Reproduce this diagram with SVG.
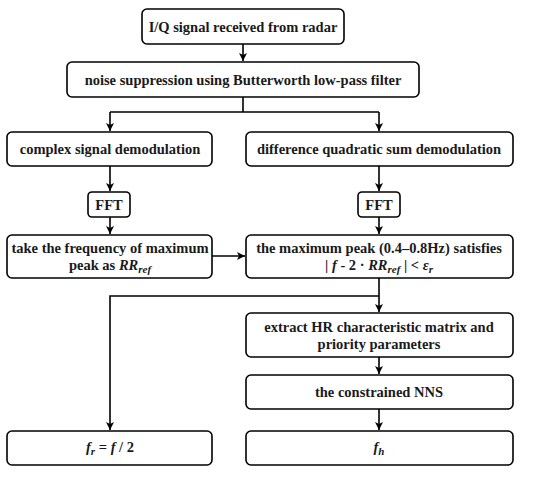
<svg xmlns="http://www.w3.org/2000/svg" width="550" height="480" viewBox="0 0 550 480">
<defs>
<marker id="ah" markerWidth="10" markerHeight="10" refX="9" refY="5" orient="auto" markerUnits="userSpaceOnUse">
<path d="M1,1 L9,5 L1,9 L3,5 Z" fill="#000"/>
</marker>
<style>
.b{fill:#fff;stroke:#000;stroke-width:1.6}
.t{font-family:"Liberation Serif","DejaVu Serif",serif;font-weight:bold;font-size:14.5px;text-anchor:middle;fill:#1a1a1a}
.i{font-style:italic}
.c{fill:none;stroke:#000;stroke-width:1.6}
</style>
</defs>
<rect width="550" height="480" fill="#fff"/>
<g id="connectors">
<path class="c" d="M243,44 V61" marker-end="url(#ah)"/>
<path class="c" d="M243,97 V112 M110,112 H379"/>
<path class="c" d="M110,112 V131" marker-end="url(#ah)"/>
<path class="c" d="M379,112 V131" marker-end="url(#ah)"/>
<path class="c" d="M110,166 V191" marker-end="url(#ah)"/>
<path class="c" d="M379,166 V191" marker-end="url(#ah)"/>
<path class="c" d="M110,217 V234" marker-end="url(#ah)"/>
<path class="c" d="M379,217 V234" marker-end="url(#ah)"/>
<path class="c" d="M212,256 H245" marker-end="url(#ah)"/>
<path class="c" d="M379,278 V312" marker-end="url(#ah)"/>
<path class="c" d="M379,296 H110 V430" marker-end="url(#ah)"/>
<path class="c" d="M379,357 V374" marker-end="url(#ah)"/>
<path class="c" d="M379,409 V430" marker-end="url(#ah)"/>
</g>
<g id="n1"><rect class="b" x="142" y="9" width="202" height="35" rx="5"/><text class="t" x="243" y="32">I/Q signal received from radar</text></g>
<g id="n2"><rect class="b" x="67" y="62" width="352" height="35" rx="5"/><text class="t" x="243" y="85">noise suppression using Butterworth low-pass filter</text></g>
<g id="n3"><rect class="b" x="7" y="132" width="205" height="34" rx="5"/><text class="t" x="110" y="154">complex signal demodulation</text></g>
<g id="n4"><rect class="b" x="246" y="132" width="267" height="34" rx="5"/><text class="t" x="379" y="154">difference quadratic sum demodulation</text></g>
<g id="n5"><rect class="b" x="88" y="192" width="42" height="25" rx="4"/><text class="t" x="109" y="210">FFT</text></g>
<g id="n6"><rect class="b" x="358" y="192" width="42" height="25" rx="4"/><text class="t" x="379" y="210">FFT</text></g>
<g id="n7"><rect class="b" x="7" y="235" width="205" height="43" rx="5"/><text class="t" x="110" y="253">take the frequency of maximum</text><text class="t" x="110" y="270">peak as <tspan class="i">RR</tspan><tspan class="i" font-size="11" dy="3">ref</tspan></text></g>
<g id="n8"><rect class="b" x="246" y="235" width="267" height="43" rx="5"/><text class="t" x="379" y="253">the maximum peak (0.4–0.8Hz) satisfies</text><text class="t" x="379" y="270">| <tspan class="i">f</tspan> - 2 · <tspan class="i">RR</tspan><tspan class="i" font-size="11" dy="3">ref</tspan><tspan dy="-3"> | &lt; </tspan><tspan class="i">ε</tspan><tspan class="i" font-size="11" dy="3">r</tspan></text></g>
<g id="n9"><rect class="b" x="246" y="313" width="267" height="44" rx="5"/><text class="t" x="379" y="332">extract HR characteristic matrix and</text><text class="t" x="379" y="349">priority parameters</text></g>
<g id="n10"><rect class="b" x="246" y="375" width="267" height="34" rx="5"/><text class="t" x="379" y="397">the constrained NNS</text></g>
<g id="n11"><rect class="b" x="7" y="431" width="205" height="34" rx="5"/><text class="t" x="110" y="452"><tspan class="i">f</tspan><tspan class="i" font-size="11" dy="3">r</tspan><tspan dy="-3"> = </tspan><tspan class="i">f</tspan> / 2</text></g>
<g id="n12"><rect class="b" x="246" y="431" width="267" height="34" rx="5"/><text class="t" x="379" y="452"><tspan class="i">f</tspan><tspan class="i" font-size="11" dy="3">h</tspan></text></g>
</svg>
